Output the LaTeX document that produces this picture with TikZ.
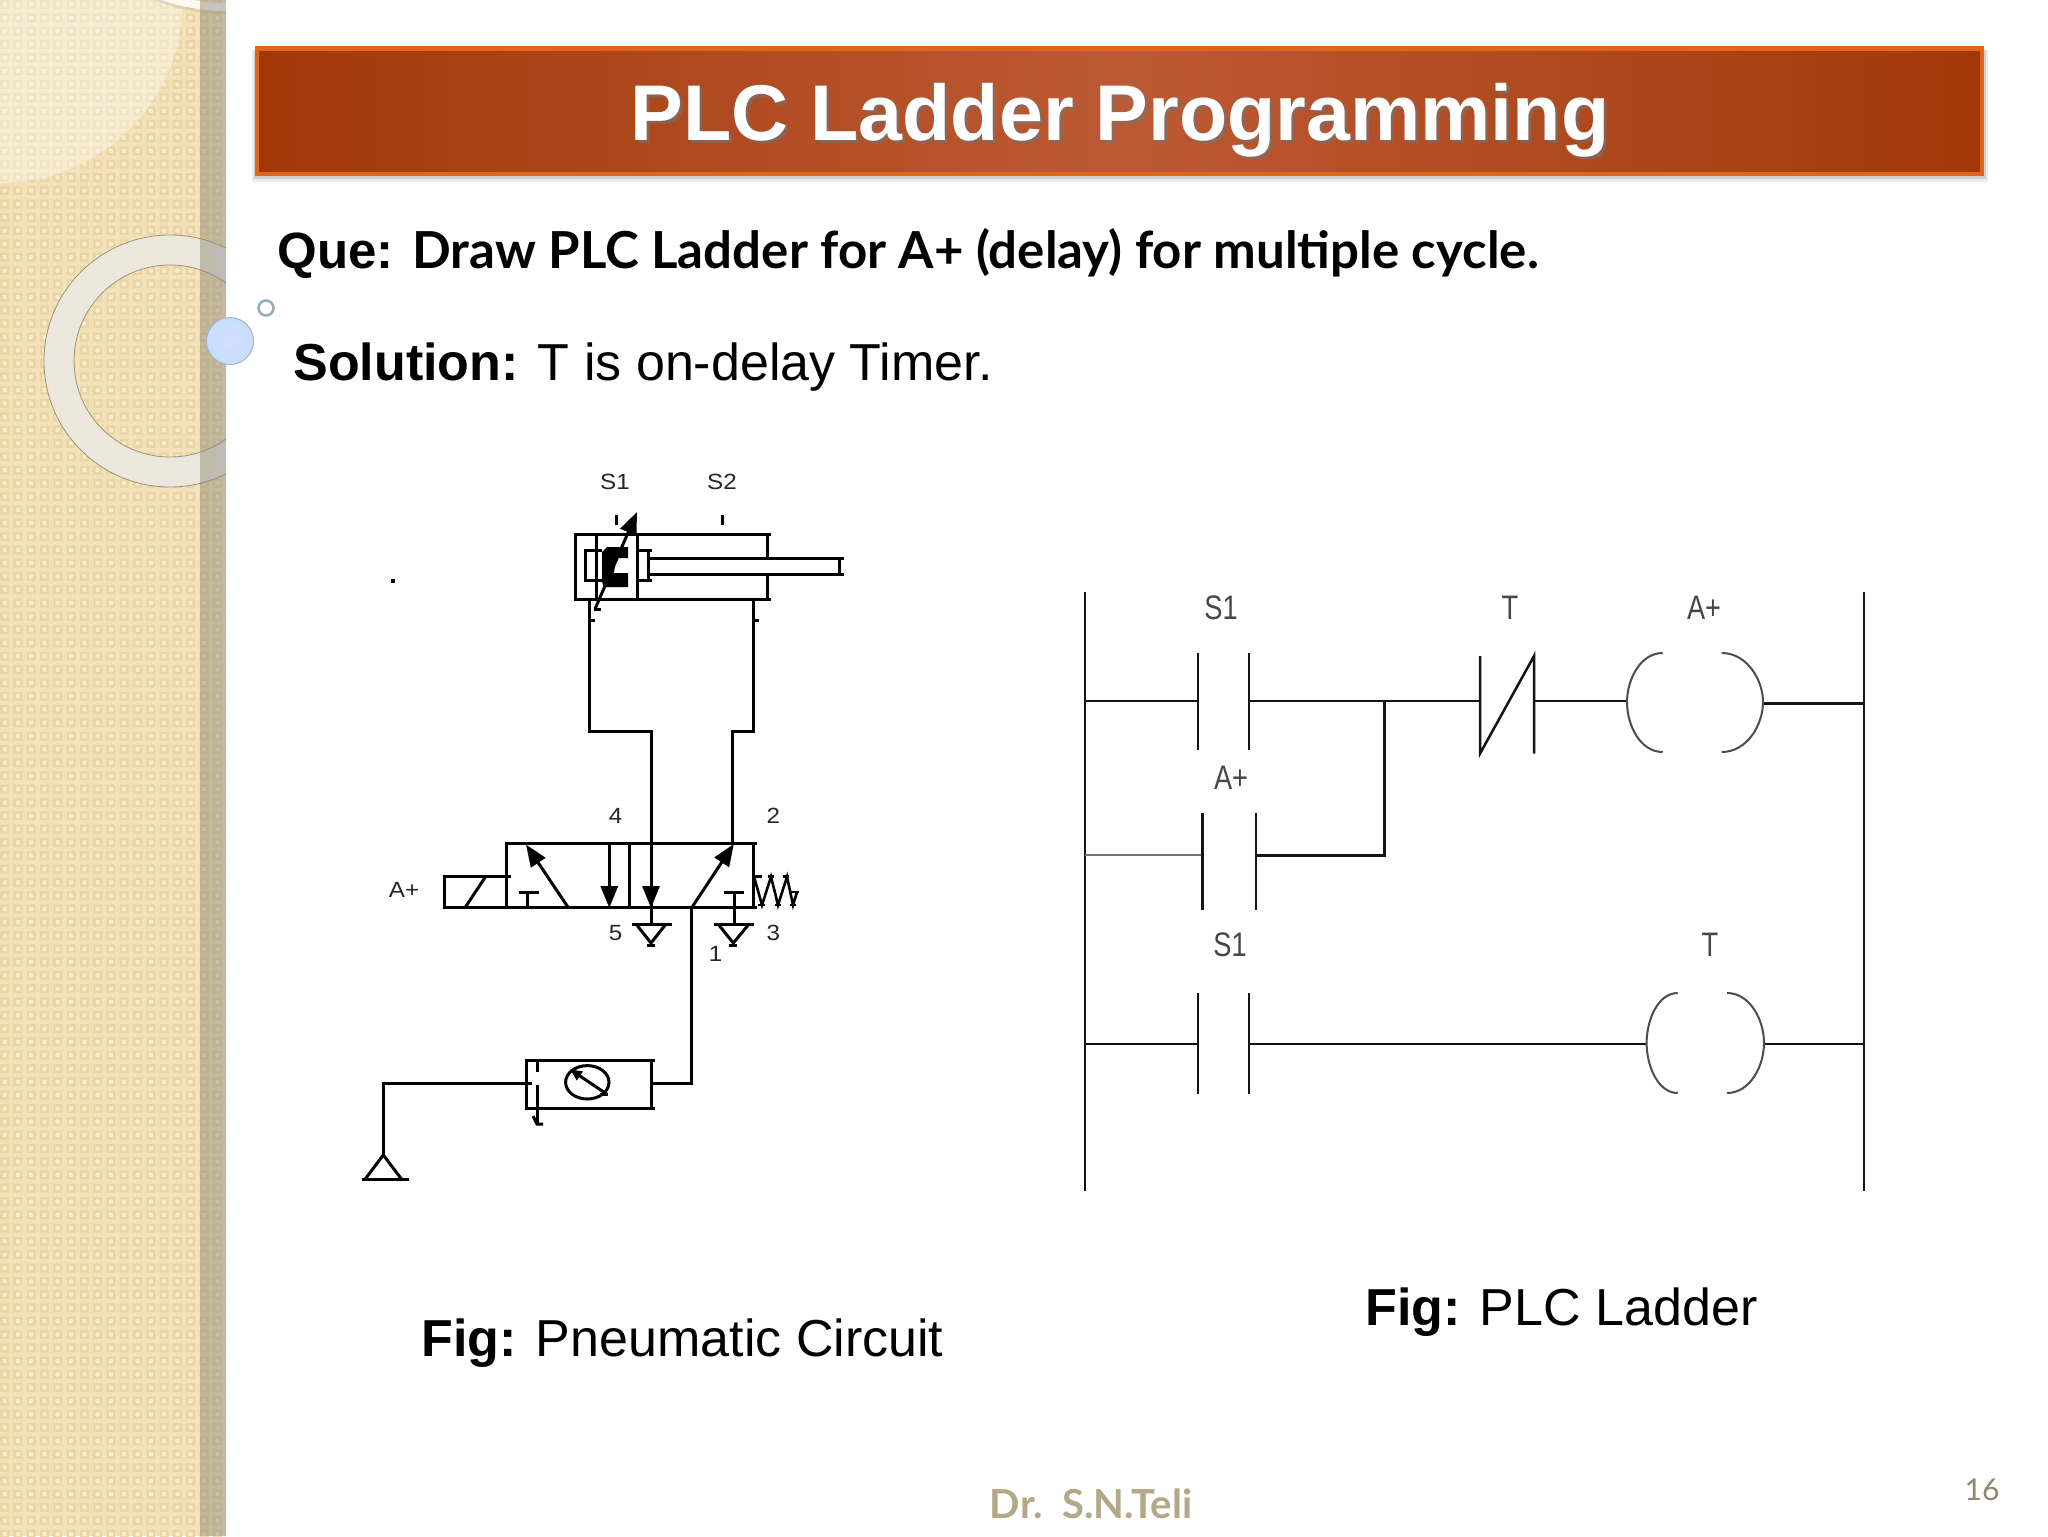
\documentclass[tikz,border=0pt]{standalone}
\usepackage{fontspec}
\setmainfont{Liberation Sans}
\newfontfamily\gill{Lato}
\usetikzlibrary{arrows.meta}
\definecolor{stripbase}{HTML}{F3E1B9}
\definecolor{stripdark}{HTML}{EBD5A5}
\definecolor{striplight}{HTML}{F8ECCF}
\definecolor{bannerA}{HTML}{A23808}
\definecolor{bannerB}{HTML}{BC5A35}
\definecolor{bannerEdge}{HTML}{E0661C}
\definecolor{footcol}{HTML}{B5A888}
\tikzset{
  wire/.style={line width=1.5pt,black,line cap=butt,line join=miter},
  thinwire/.style={line width=1pt,black},
  ladder/.style={line width=1.25pt,black!92},
  coil/.style={line width=1pt,black!70,line cap=butt},
  tip/.style={-{Triangle[length=11pt,width=8.5pt]}},
  plabel/.style={font=\fontsize{11}{13}\selectfont,text=black!85,inner sep=0pt,xscale=1.1},
  llabel/.style={font=\fontsize{17}{20}\selectfont,text=black!72,inner sep=0pt,xscale=.8},
}
\begin{document}
\begin{tikzpicture}[x=.5pt,y=-.5pt]
\useasboundingbox (0,0) rectangle (2048,1536);
\fill[white] (0,0) rectangle (2048,1536);
% ---- left decorative strip
\begin{scope}
\clip (0,0) rectangle (226,1536);
\fill[stripbase] (0,0) rectangle (226,1536);
\fill[stripdark] \foreach \i in {0,...,17}{\foreach \j in {0,...,115}{ ({\i*13.3},{\j*13.3}) rectangle ++(9,9) }};
\fill[striplight] \foreach \i in {0,...,17}{\foreach \j in {0,...,115}{ ({\i*13.3+2.5},{\j*13.3+2.5}) rectangle ++(4,4) }};
\fill[white,opacity=.35] (0,0) -- (183,0) arc[start angle=0,end angle=90,radius=183] -- cycle;
\draw[line width=4pt,color=black!25!stripdark,opacity=.25] (226,10) arc[start angle=90,end angle=270,radius=189];
\draw[line width=4pt,color=white!80!stripbase] (226,7) arc[start angle=90,end angle=270,radius=189];
\fill[even odd rule,fill=black!8!white!85!stripbase,opacity=.9,draw=black!35!stripdark,line width=.4pt]
  (170,361) circle[radius=126] (170,361) circle[radius=96];
\fill[left color=white!0!stripbase,right color=black!8,opacity=.25] (200,0) rectangle (226,1536);
\end{scope}
% ---- bubbles
\shade[ball color=white,inner color=white!70!cyan!50!blue!25,outer color=cyan!40!blue!22!white,draw=cyan!45!black!45,line width=.5pt] (230,341) circle[radius=23.5];
\draw[draw=cyan!40!black!50,line width=1.3pt] (266,308) circle[radius=7.5];
% ---- banner
\fill[black,opacity=.08] (252,50) rectangle (1988,182);
\fill[black,opacity=.12] (254,50) rectangle (1986,179);
\fill[bannerEdge] (255,46) rectangle (1984,176);
\shade[left color=bannerA,right color=bannerA,middle color=bannerB] (259,52) rectangle (1980,171);
\node[font=\fontsize{39.5}{44}\bfseries\selectfont,text=black!55,opacity=.6] at (1123,123) {PLC Ladder Programming};
\node[font=\fontsize{39.5}{44}\bfseries\selectfont,text=white] (title) at (1120,120) {PLC Ladder Programming};
% ---- text
\node[anchor=base west,inner sep=0pt,font=\fontsize{25.5}{30}\selectfont] (que) at (277,268)
  {\textbf{Que: }{\gill\bfseries Draw PLC Ladder for A+ (delay) for multiple cycle.}};
\node[anchor=base west,inner sep=0pt,font=\fontsize{26}{30}\selectfont] (sol) at (293,380)
  {\textbf{Solution:} T is on-delay Timer.};
\node[anchor=base west,inner sep=0pt,font=\fontsize{26}{30}\selectfont] (figa) at (421,1356)
  {\textbf{Fig:} Pneumatic Circuit};
\node[anchor=base west,inner sep=0pt,font=\fontsize{26}{30}\selectfont] (figb) at (1365,1325)
  {\textbf{Fig:} PLC Ladder};
\node[anchor=center,inner sep=0pt,font=\fontsize{20}{24}\selectfont\gill\bfseries,text=footcol] (foot) at (1091,1504) {Dr.\ \ S.N.Teli};
\node[anchor=center,inner sep=0pt,font=\fontsize{15}{18}\selectfont\gill,text=footcol!80!black] (pg) at (1982,1490) {16};
% ---- cylinder
\node[plabel] (ls1) at (615,482) {S1};
\node[plabel] (ls2) at (722,482) {S2};
\fill (391,578.5) rectangle (395,583);
\coordinate (cTL) at (575,534); \coordinate (cBL) at (575,599);
\draw[wire] (771,534) -- (cTL) -- (cBL) -- (771,599);
\draw[wire] (767,534) -- (767,558); \draw[wire] (767,574) -- (767,599);
\draw[wire] (596,534) -- (596,599);
\draw[wire] (637,534) -- (637,599);
\draw[wire] (602,550) -- (585,550) -- (585,580) -- (602,580);
\draw[wire] (637,550) -- (652,550); \draw[wire] (637,580) -- (652,580);
\draw[wire] (648,550) -- (648,580);
\fill (607,547) -- (628,547) -- (628,558) -- (616,558) -- (614,573) -- (628,573) -- (628,587) -- (604,587) -- (602,582) -- (602,552) -- cycle;
\draw[wire] (648,558) -- (843.5,558);
\draw[wire] (648,574) -- (843.5,574);
\draw[wire] (839,558) -- (839,574);
\draw[wire,tip] (595,609) -- (637,512);
\draw[wire] (594,609) -- (601,609);
\draw[wire] (616,515) -- (616,525);
\draw[wire] (722,515) -- (722,525);
% ---- pipes
\coordinate (pL) at (589,599); \coordinate (pR) at (753.4,599);
\coordinate (a4) at (651,923); \coordinate (a2) at (732.3,843.3);
\draw[wire] (pL) -- (589,731.7) -- (651,731.7) -- (a4);
\draw[wire] (pR) -- (753.4,731.7) -- (732.3,731.7) -- (a2);
\draw[wire] (589,620) -- (595,620);
\draw[wire] (753.4,620) -- (759,620);
% ---- valve
\draw[wire] (757.3,843.3) -- (506,843.3) -- (506,907.7);
\draw[wire] (757.3,907.7) -- (444,907.7) -- (444,876) -- (511.3,876);
\draw[wire] (465,907.7) -- (486,876);
\draw[wire] (629.3,843.3) -- (629.3,907.7);
\draw[wire] (753.3,843.3) -- (753.3,907.7);
\draw[wire,tip] (568.3,907.7) -- (526,844.5);
\draw[wire] (527.7,907.7) -- (527.7,892.7); \draw[wire] (519,892.7) -- (539,892.7);
\draw[wire,tip] (609.3,843.3) -- (609.3,908);
\draw[wire,tip] (651,850) -- (651,908);
\draw[wire,tip] (691.7,907.7) -- (733.8,844);
\draw[wire] (734,923) -- (734,892.7); \draw[wire] (724,892.7) -- (744,892.7);
% exhausts
\draw[wire] (631.7,924) -- (671.7,924);
\draw[wire] (636,924) -- (651,943) -- (666,924);
\draw[wire] (647,945) -- (655,945);
\draw[wire] (714,924) -- (754,924);
\draw[wire] (718,924) -- (733.3,943) -- (749,924);
\draw[wire] (729,945) -- (737,945);
% spring
\draw[wire,line width=1.3pt] (754,876.7) -- (762,905) -- (771,876.7) -- (778,905) -- (787,876.7) -- (793,905) -- (797,892);
\draw[wire,line width=1.3pt] (754,876.7) -- (762,876.7);
\draw[wire,line width=1.3pt] (768,876.7) -- (774,876.7);
\draw[wire,line width=1.3pt] (783,876.7) -- (789,876.7);
\draw[wire,line width=1.3pt] (790,892) -- (799,892);
\draw[wire,line width=1.3pt] (758,905) -- (765,905);
\draw[wire,line width=1.3pt] (775,905) -- (781,905);
\draw[wire,line width=1.3pt] (790,905) -- (796,905);
% valve labels
\node[plabel] (l4) at (615.7,815.7) {4};
\node[plabel] (l2) at (773.3,815.7) {2};
\node[plabel] (l5) at (615.7,933.3) {5};
\node[plabel] (l3) at (773.3,933.3) {3};
\node[plabel] (l1) at (715.7,954) {1};
\node[plabel] (laplus) at (404,890) {A+};
% ---- FRL unit and supply
\coordinate (frlR) at (651,1083.3);
\draw[wire] (691.7,907.7) -- (691.7,1083.3) -- (frlR);
\draw[wire] (655,1060) -- (526,1060) -- (526,1108.3) -- (655,1108.3);
\draw[wire] (651,1060) -- (651,1108.3);
\draw[wire] (537.3,1060) -- (537.3,1071.7);
\draw[wire] (537.3,1085) -- (537.3,1123.3);
\draw[wire] (533,1116) -- (537,1124) -- (543,1124);
\draw[wire] (587.3,1082.3) ellipse[x radius=21.7,y radius=16.7];
\draw[wire,-{Triangle[length=6pt,width=5pt]}] (606.7,1094) -- (570,1069.3);
\draw[wire] (600,1094) -- (608,1094);
\coordinate (earth) at (383.3,1155);
\draw[wire] (532,1083.3) -- (383.3,1083.3) -- (earth);
\draw[wire] (earth) -- (365,1179.3);
\draw[wire] (earth) -- (401.7,1179.3);
\draw[wire] (361.7,1179.3) -- (409,1179.3);
% ---- ladder
\coordinate (lT) at (1085,592); \coordinate (lB) at (1085,1191);
\coordinate (rT) at (1864,592); \coordinate (rB) at (1864,1191);
\draw[ladder] (lT) -- (lB);
\draw[ladder] (rT) -- (rB);
\coordinate (j1) at (1384.6,701); \coordinate (j2) at (1384.6,855.6);
\draw[ladder] (1085,701) -- (1198,701);
\draw[ladder] (1249,701) -- (j1) -- (1480,701);
\draw[ladder] (1534,701) -- (1627,701);
\draw[ladder,line width=1.6pt] (1763,703.8) -- (1864,703.8);
\draw[ladder] (j1) -- (j2) -- (1256,855.6);
\draw[ladder,black!55] (1085,855) -- (1202.5,855);
\draw[ladder] (1085,1044) -- (1198,1044);
\draw[ladder] (1249,1044) -- (1646.6,1044);
\draw[ladder] (1764,1044) -- (1864,1044);
\draw[ladder] (1198,653) -- (1198,749.5); \draw[ladder] (1249,653) -- (1249,749.5);
\draw[ladder] (1202.5,813) -- (1202.5,910); \draw[ladder] (1256,813) -- (1256,910);
\draw[ladder] (1198,993) -- (1198,1093.5); \draw[ladder] (1249,993) -- (1249,1093.5);
\draw[ladder] (1480,656) -- (1480,753.6) -- (1534,656) -- (1534,753.6);
\draw[coil] (1662.7,653) .. controls (1640,653) and (1627,680) .. (1627,702) .. controls (1627,725) and (1640,752) .. (1662.7,752);
\draw[coil] (1721.6,653) .. controls (1747,653) and (1763,680) .. (1763,702) .. controls (1763,725) and (1747,752) .. (1721.6,752);
\draw[coil] (1677.7,993) .. controls (1658,993) and (1646.6,1020) .. (1646.6,1043) .. controls (1646.6,1066) and (1658,1093) .. (1677.7,1093);
\draw[coil] (1727,993) .. controls (1750,993) and (1764,1020) .. (1764,1043) .. controls (1764,1066) and (1750,1093) .. (1727,1093);
\node[llabel] (la) at (1221,608) {S1};
\node[llabel] (lb) at (1510,608) {T};
\node[llabel] (lc) at (1704,608) {A+};
\node[llabel] (ld) at (1231,778) {A+};
\node[llabel] (le) at (1230,945) {S1};
\node[llabel] (lf) at (1710,945) {T};
\end{tikzpicture}
\end{document}
